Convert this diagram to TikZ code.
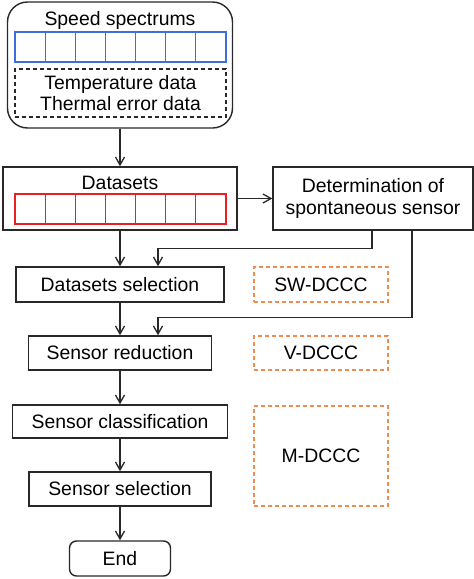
\documentclass[tikz,border=0pt]{standalone}
\usepackage{fontspec}
\setmainfont{Liberation Sans}
\usetikzlibrary{arrows.meta}
\definecolor{cellblue}{RGB}{60,110,220}
\definecolor{cellred}{RGB}{235,30,35}
\definecolor{dorange}{RGB}{240,140,80}
\definecolor{lineg}{RGB}{40,40,40}
\begin{document}
\begin{tikzpicture}[x=1pt,y=-1pt,
  every node/.style={font=\fontsize{19.4}{21.5}\selectfont, inner sep=0pt, text=black},
  boxn/.style={draw=lineg, line width=1.4pt, rectangle},
  cellb/.style={draw=cellblue, line width=1.2pt, minimum width=30.14pt, minimum height=30pt},
  cellr/.style={draw=cellred, line width=1.2pt, minimum width=30.14pt, minimum height=30pt},
  dbox/.style={draw=dorange, line width=1.3pt, dash pattern=on 4pt off 3pt, minimum width=134pt},
  arr/.style={draw=lineg, line width=1.3pt, -{Straight Barb[length=8pt,width=9pt]}},
  ]
\useasboundingbox (0,0) rectangle (474,579);
% top rounded box
\node[boxn, rounded corners=20pt, minimum width=225pt, minimum height=126pt] (top) at (120,65) {};
\node (speed) at (120,20) {Speed spectrums};
\foreach \i in {0,...,6} {
  \node[cellb] (b\i) at ({15+30.14*(\i+0.5)},47) {};
}
\node[draw=lineg, line width=1.2pt, dash pattern=on 4pt off 3pt, minimum width=211pt, minimum height=48pt, align=center] (temp) at (120.5,93) {Temperature data\\Thermal error data};
% datasets
\node[boxn, minimum width=234pt, minimum height=63pt] (ds) at (120,198.5) {};
\node (dstext) at (120,183) {Datasets};
\foreach \i in {0,...,6} {
  \node[cellr] (r\i) at ({15+30.14*(\i+0.5)},209) {};
}
\node[boxn, minimum width=200pt, minimum height=63pt, align=center] (det) at (373,198.5) {Determination of\\spontaneous sensor};
% chain
\node[boxn, minimum width=208pt, minimum height=35pt] (dsel) at (120,284.5) {Datasets selection};
\node[boxn, minimum width=183pt, minimum height=34pt] (sred) at (120,353) {Sensor reduction};
\node[boxn, minimum width=215pt, minimum height=33pt] (scls) at (120,421.5) {Sensor classification};
\node[boxn, minimum width=182pt, minimum height=34pt] (ssel) at (120,489) {Sensor selection};
\node[boxn, rounded corners=7pt, minimum width=101pt, minimum height=35pt] (end) at (120,558.5) {End};
% dashed orange
\node[dbox, minimum height=35pt] (sw) at (321,284.5) {SW-DCCC};
\node[dbox, minimum height=34pt] (v) at (321,353) {V-DCCC};
\node[dbox, minimum height=100pt] (m) at (321,456) {M-DCCC};
% connectors
\draw[arr] (top.south) -- (ds.north);
\draw[arr] (ds.east) -- (det.west);
\draw[arr] (ds.south) -- (dsel.north);
\draw[arr] (dsel.south) -- (sred.north);
\draw[arr] (sred.south) -- (scls.north);
\draw[arr] (scls.south) -- (ssel.north);
\draw[arr] (ssel.south) -- (end.north);
\draw[arr] ([xshift=-1pt]det.south) -- ++(0,18) -| ([xshift=38pt]dsel.north);
\draw[arr] ([xshift=39pt]det.south) -- ++(0,87) -| ([xshift=38pt]sred.north);
\end{tikzpicture}
\end{document}
